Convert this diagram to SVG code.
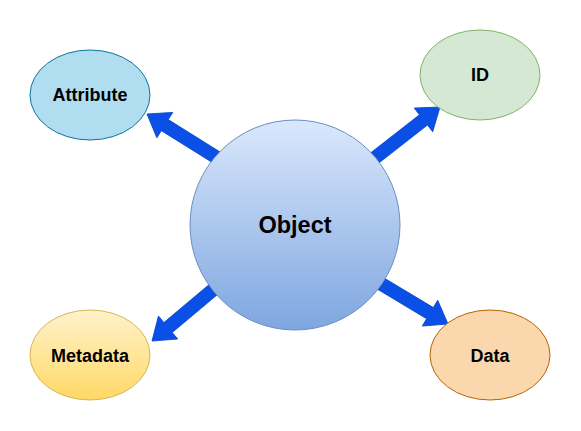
<svg xmlns="http://www.w3.org/2000/svg" width="581" height="431" viewBox="0 0 581 431">
<style>
.lbl{font-family:"Liberation Sans",Arial,sans-serif;font-weight:bold;fill:#000;text-anchor:middle}
.small{font-size:18px}
.big{font-size:23.5px}
.arrow{fill:#0b50e6;stroke:#0846d0;stroke-width:0.8}
</style>
<defs>
<linearGradient id="gObj" x1="0" y1="0" x2="0" y2="1">
<stop offset="0" stop-color="#dae8fc"/>
<stop offset="1" stop-color="#7ea6e0"/>
</linearGradient>
<linearGradient id="gMeta" x1="0" y1="0" x2="0" y2="1">
<stop offset="0" stop-color="#fff2cc"/>
<stop offset="1" stop-color="#ffd966"/>
</linearGradient>
<path id="arr" d="M0,0 L-21,-15 L-21,-6.5 L-84,-6.5 L-84,6.5 L-21,6.5 L-21,15 Z"/>
</defs>
<rect width="581" height="431" fill="#fff"/>
<g id="connectors">
<use href="#arr" class="arrow" transform="translate(147,114) rotate(212)"/>
<use href="#arr" class="arrow" transform="translate(440,107) rotate(-38)"/>
<use href="#arr" class="arrow" transform="translate(152,341) rotate(140)"/>
<use href="#arr" class="arrow" transform="translate(448,324) rotate(31)"/>
</g>
<g id="object">
<circle cx="295" cy="225" r="105" fill="url(#gObj)" stroke="#6c8ebf" stroke-width="1"/>
<text class="lbl big" x="295" y="233">Object</text>
</g>
<g id="attribute">
<ellipse cx="90" cy="95" rx="60" ry="45" fill="#b1ddf0" stroke="#10739e" stroke-width="1"/>
<text class="lbl small" x="90" y="101">Attribute</text>
</g>
<g id="id">
<ellipse cx="480" cy="75" rx="60" ry="45" fill="#d5e8d4" stroke="#82b366" stroke-width="1"/>
<text class="lbl small" x="480" y="81">ID</text>
</g>
<g id="metadata">
<ellipse cx="90" cy="355" rx="60" ry="45" fill="url(#gMeta)" stroke="#d6b656" stroke-width="1"/>
<text class="lbl small" x="90" y="362">Metadata</text>
</g>
<g id="data">
<ellipse cx="490" cy="355" rx="60" ry="45" fill="#fad7ac" stroke="#b46504" stroke-width="1"/>
<text class="lbl small" x="490" y="362">Data</text>
</g>
</svg>
